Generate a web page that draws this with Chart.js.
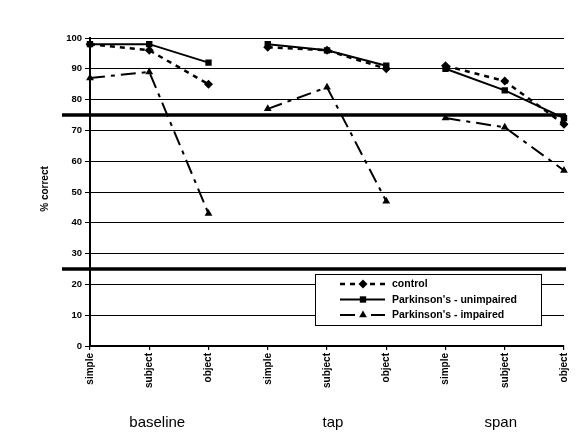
<!DOCTYPE html>
<html><head><meta charset="utf-8">
<script src="https://cdn.jsdelivr.net/npm/chart.js@4/dist/chart.umd.min.js"></script>
<style>html,body{margin:0;padding:0;background:#fff}#wrap{width:576px;height:439px;position:relative}</style>
</head><body><div id="wrap"><canvas id="c" width="576" height="439"></canvas></div>
<script>
const categories = ['simple','subject','object','simple','subject','object','simple','subject','object'];
const groups = ['baseline','tap','span'];
const control = [98, 96, 85, 97, 96, 90, 91, 86, 72];
const unimpaired = [98, 98, 92, 98, 96, 91, 90, 83, 74];
const impaired = [87, 89, 43, 77, 84, 47, 74, 71, 57];
const yTicks = [0,10,20,30,40,50,60,70,80,90,100];
const thresholds = [75, 25];
const seriesNames = ['control', "Parkinson's - unimpaired", "Parkinson's - impaired"];
const yTitle = '% correct';

const FONT = 'Liberation Sans, Arial, sans-serif';
const breakSeg = ctx => (ctx.p0DataIndex % 3 === 2) ? 'rgba(0,0,0,0)' : '#000';

const styles = [
  {dash:[5,5], width:2.5, point:'rectRot', r:4.5},
  {dash:[], width:2, point:'rect', r:4.5},
  {dash:[15,6,4,6], width:2, point:'triangle', r:4.5}
];
const seriesData = [control, unimpaired, impaired];

const datasets = seriesData.map((d,i)=>({
  label: seriesNames[i], data: d,
  borderColor:'#000', backgroundColor:'#000',
  borderWidth: styles[i].width, borderDash: styles[i].dash,
  pointStyle: styles[i].point, pointRadius: styles[i].r, pointBorderWidth:0,
  tension:0, spanGaps:false,
  segment:{borderColor: breakSeg}
}));

const extras = {
  id:'extras',
  afterDatasetsDraw(chart){
    const c = chart.ctx, y = chart.scales.y, x = chart.scales.x, ca = chart.chartArea;
    c.save();
    // thick threshold lines
    c.strokeStyle='#000'; c.lineWidth=3.5; c.setLineDash([]);
    thresholds.forEach(v=>{
      const py = Math.round(y.getPixelForValue(v));
      c.beginPath(); c.moveTo(62, py); c.lineTo(ca.right+2, py); c.stroke();
    });
    // y title
    c.save();
    c.translate(45, (y.getPixelForValue(0)+y.getPixelForValue(100))/2 - 3);
    c.rotate(-Math.PI/2);
    c.font='bold 10px '+FONT; c.fillStyle='#000'; c.textAlign='center'; c.textBaseline='middle';
    c.fillText(yTitle,0,0);
    c.restore();
    // legend
    const lx=315, ly=274, lw=226, lh=51;
    c.fillStyle='#fff'; c.fillRect(lx,ly,lw,lh);
    c.lineWidth=1; c.strokeStyle='#000'; c.strokeRect(lx+0.5,ly+0.5,lw,lh);
    c.font='bold 10.5px '+FONT; c.textBaseline='middle'; c.textAlign='left';
    seriesNames.forEach((n,i)=>{
      const yy = ly+10+i*15.5;
      c.beginPath(); c.lineWidth=styles[i].width; c.setLineDash(styles[i].dash);
      c.moveTo(340,yy); c.lineTo(385,yy); c.stroke(); c.setLineDash([]);
      c.fillStyle='#000';
      Chart.helpers.drawPoint(c,{pointStyle:styles[i].point, radius:styles[i].r, borderWidth:0}, 363, yy);
      c.fillText(n, 392, yy+0.5);
    });
    // group labels
    c.font='15px '+FONT; c.textAlign='center'; c.textBaseline='middle'; c.fillStyle='#000';
    groups.forEach((g,i)=>{
      const px = x.getPixelForValue(i*3+1);
      c.fillText(g, px + [8,6,-4][i], 423);
    });
    c.restore();
  }
};

new Chart(document.getElementById('c'), {
  type:'line',
  data:{labels:categories, datasets},
  options:{
    responsive:false, animation:false, devicePixelRatio:1,
    layout:{padding:{top:38,right:12,left:0,bottom:0}},
    plugins:{legend:{display:false}, tooltip:{enabled:false}},
    scales:{
      x:{
        offset:false,
        grid:{drawOnChartArea:false, color:'#000', lineWidth:1.2, tickLength:4},
        border:{color:'#000', width:2},
        ticks:{color:'#000', font:{family:FONT, weight:'bold', size:10}, maxRotation:90, minRotation:90, autoSkip:false, padding:3},
        afterFit(s){ s.height = 93; s.paddingRight = 0; s.paddingLeft = 0; }
      },
      y:{
        min:0, max:100,
        afterBuildTicks(s){ s.ticks = yTicks.map(v=>({value:v})); },
        grid:{color:'#000', lineWidth:1, tickLength:5},
        border:{color:'#000', width:2},
        ticks:{color:'#000', font:{family:FONT, weight:'bold', size:9.5}, padding:3},
        afterFit(s){ s.width = 90; }
      }
    }
  },
  plugins:[extras]
});
</script></body></html>
